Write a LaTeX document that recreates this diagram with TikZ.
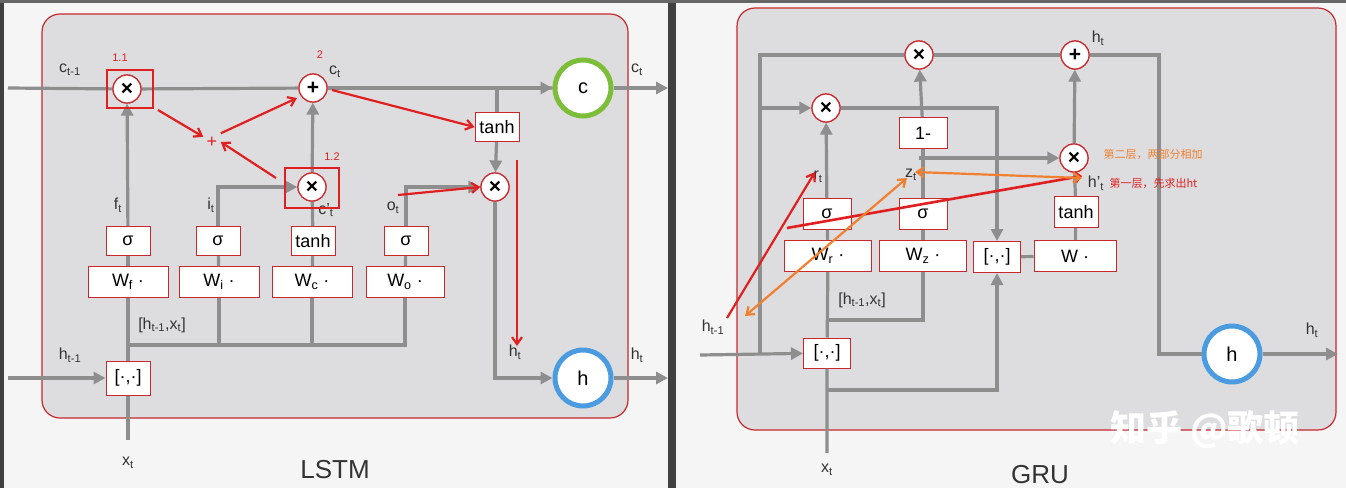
\documentclass[tikz,border=0pt]{standalone}
\usepackage{fontspec}
\setmainfont{Liberation Sans}
\newfontfamily\cjk{Noto Sans CJK SC}
\usetikzlibrary{arrows.meta}
\definecolor{lg}{HTML}{8E8E8E}
\definecolor{pan}{HTML}{DDDDDF}
\definecolor{rb}{HTML}{C8282C}
\definecolor{ann}{HTML}{E02020}
\definecolor{org}{HTML}{F08030}
\definecolor{gc}{HTML}{7CBE3A}
\definecolor{bc}{HTML}{4A9BE0}
\begin{document}
\begin{tikzpicture}[x=1pt,y=-1pt,
 ln/.style={draw=lg,line width=3.2},
 arr/.style={ln,-{Triangle[length=12,width=12]}},
 box/.style={draw=rb,fill=white,line width=1,minimum height=29,inner sep=1,font=\fontsize{18}{20}\selectfont},
 op/.style={circle,draw=rb,fill=white,line width=1.2,minimum size=28,inner sep=0,font=\fontsize{21}{21}\selectfont\bfseries},
 st/.style={draw,circle,line width=5,fill=white,minimum size=56,font=\fontsize{20}{20}\selectfont},
 lab/.style={font=\fontsize{16}{18}\selectfont,text=black!80},
 ra/.style={draw=ann,line width=2.2,-{Straight Barb[length=7,width=10]}},
 oa/.style={draw=org,line width=2.2,{Straight Barb[length=7,width=10]}-{Straight Barb[length=7,width=10]}},
 rs/.style={font=\fontsize{11}{12}\selectfont,text=ann}]
\useasboundingbox (0,0) rectangle (1346,488);
\fill[white!96!black] (0,0) rectangle (1346,488);
\fill[black!75] (0,0) rectangle (4,488);
\fill[black!75] (668,0) rectangle (676,488);
\fill[black!60] (0,0) rectangle (1346,3);
% ===== LSTM =====
\draw[rb,fill=pan,line width=1.2,rounded corners=18] (42,14) rectangle (628,418);
\node[op] (m11) at (127,89) {×};
\node[op] (pl) at (313,88) {+};
\node[box,minimum width=44] (tc) at (497,127) {tanh};
\node[op] (m12) at (312,187) {×};
\node[op] (mo) at (495,187) {×};
\node[st,draw=gc] (C) at (583,88) {c};
\node[st,draw=bc] (H) at (583,378) {h};
\node[box,minimum width=44,minimum height=34] (cc) at (128,378) {[·,·]};
\node[box,minimum width=44] (sf) at (128,241) {σ};
\node[box,minimum width=44] (si) at (218,241) {σ};
\node[box,minimum width=44] (tn) at (313,241) {tanh};
\node[box,minimum width=44] (so) at (406,241) {σ};
\node[box,minimum width=80,minimum height=31] (wf) at (128,282) {W\textsubscript{f} ·};
\node[box,minimum width=80,minimum height=31] (wi) at (219,282) {W\textsubscript{i} ·};
\node[box,minimum width=80,minimum height=31] (wc) at (312,282) {W\textsubscript{c} ·};
\node[box,minimum width=78,minimum height=31] (wo) at (405,282) {W\textsubscript{o} ·};
\coordinate (cin) at (8,88);
\coordinate (hin) at (8,378);
\coordinate (xin) at (128,440);
\coordinate (cout) at (668,88);
\coordinate (hout) at (668,378);
\coordinate (b) at (128,345);
\draw[ln] (cin) -- (m11) -- (pl) -- (C);
\draw[arr] (pl) -- (C);
\draw[arr] (C) -- (cout);
\draw[arr] (hin) -- (cc);
\draw[ln] (xin) -- (cc);
\draw[ln] (cc) -- (wf);
\draw[ln] (wf) -- (sf); \draw[arr] (sf) -- (m11);
\draw[ln] (b) -| (wo);
\draw[ln] (wi|-b) -- (wi); \draw[ln] (wc|-b) -- (wc);
\draw[ln] (wi) -- (si); \draw[ln] (wc) -- (tn); \draw[ln] (wo) -- (so);
\draw[arr] (si) |- (m12);
\draw[ln] (tn) -- (m12); \draw[arr] (m12) -- (pl);
\draw[arr] (so) |- (mo);
\draw[ln] (497,88) -- (tc); \draw[arr] (tc) -- (mo);
\draw[arr] (mo) |- (H);
\draw[arr] (H) -- (hout);
\node[op] at (m11) {×}; \node[op] at (pl) {+}; \node[op] at (m12) {×}; \node[op] at (mo) {×};
\node[box,minimum width=44] at (tc) {tanh};
\node[lab] (l1) at (70,70) {c\textsubscript{t-1}};
\node[lab] (l2) at (335,72) {c\textsubscript{t}};
\node[lab] (l3) at (637,70) {c\textsubscript{t}};
\node[lab] (l4) at (118,205) {f\textsubscript{t}};
\node[lab] (l5) at (211,205) {i\textsubscript{t}};
\node[lab] (l6) at (326,210) {c'\textsubscript{t}};
\node[lab] (l7) at (393,208) {o\textsubscript{t}};
\node[lab] (l8) at (162,325) {[h\textsubscript{t-1},x\textsubscript{t}]};
\node[lab] (l9) at (70,355) {h\textsubscript{t-1}};
\node[lab] (l10) at (515,352) {h\textsubscript{t}};
\node[lab] (l11) at (637,355) {h\textsubscript{t}};
\node[lab] (l12) at (128,463) {x\textsubscript{t}};
\node[font=\fontsize{26}{28}\selectfont,text=black!80] (t1) at (335,470) {LSTM};
% red annotations
\draw[ann,line width=1.3] (107,70) rectangle (153,108);
\draw[ann,line width=1.3] (285,168) rectangle (339,208);
\node[rs] (r1) at (120,58) {1.1};
\node[rs] (r2) at (320,55) {2};
\node[rs] (r3) at (332,157) {1.2};
\node[font=\fontsize{18}{18}\selectfont,text=ann] (pp) at (212,142) {+};
\draw[ra] (158,110) -- (pp);
\draw[ra] (276,178) -- (pp.east);
\draw[ra] (pp.north east) -- (297,98);
\draw[ra] (332,90) -- (tc.west);
\draw[ra] (398,195) -- (mo.west);
\coordinate (va) at (517,160); \coordinate (vb) at (517,346);
\draw[ra] (va) -- (vb);
% ===== GRU =====
\draw[rb,fill=pan,line width=1.2,rounded corners=18] (737,8) rectangle (1336,430);
\node[op] (gm1) at (919,55) {×};
\node[op] (gp) at (1075,55) {+};
\node[op] (gmr) at (826,108) {×};
\node[op] (gmh) at (1074,158) {×};
\node[box,minimum width=48,minimum height=31] (g1m) at (923,133) {1-};
\node[box,minimum width=48,minimum height=31] (gsr) at (827,214) {σ};
\node[box,minimum width=48,minimum height=31] (gsz) at (923,214) {σ};
\node[box,minimum width=44,minimum height=31] (gth) at (1076,212) {tanh};
\node[box,minimum width=87,minimum height=31] (gwr) at (828,256) {W\textsubscript{r} ·};
\node[box,minimum width=87,minimum height=31] (gwz) at (923,256) {W\textsubscript{z} ·};
\node[box,minimum width=47,minimum height=31] (gc2) at (997,257) {[·,·]};
\node[box,minimum width=82,minimum height=31] (gw) at (1075,256) {W ·};
\node[box,minimum width=47,minimum height=30] (gc1) at (827,353) {[·,·]};
\node[st,draw=bc] (gH) at (1232,354) {h};
\coordinate (ghin) at (700,355);
\coordinate (gxin) at (827,453);
\coordinate (ghout) at (1338,354);
\coordinate (gv) at (760,355);
\coordinate (gtop) at (760,55);
\coordinate (gr) at (1159,55);
\coordinate (gb1) at (827,320);
\coordinate (gb2) at (827,390);
\draw[arr] (ghin) -- (gc1);
\draw[ln] (gv) -- (gtop) -- (gm1) -- (gp) -- (gr) |- (gH);
\draw[arr] (gH) -- (ghout);
\draw[arr] (gv|-gmr) -- (gmr);
\draw[arr] (gmr) -| (gc2);
\draw[ln] (gxin) -- (gc1) -- (gwr) -- (gsr);
\draw[arr] (gsr) -- (gmr);
\draw[ln] (gb1) -| (gwz);
\draw[ln] (gwz) -- (gsz) -- (g1m);
\draw[arr] (g1m) -- (gm1);
\draw[arr] (gb2) -| (gc2);
\draw[arr] (gm1|-gmh) -- (gmh);
\draw[ln] (gc2) -- (gw) -- (gth) -- (gmh);
\draw[arr] (gmh) -- (gp);
\node[op] at (gm1) {×}; \node[op] at (gp) {+}; \node[op] at (gmr) {×}; \node[op] at (gmh) {×};
\node[box,minimum width=48,minimum height=31] at (g1m) {1-};
\node[lab] (gl1) at (713,327) {h\textsubscript{t-1}};
\node[lab] (gl2) at (1098,38) {h\textsubscript{t}};
\node[lab] (gl3) at (1312,330) {h\textsubscript{t}};
\node[lab] (gl4) at (818,177) {r\textsubscript{t}};
\node[lab] (gl5) at (911,175) {z\textsubscript{t}};
\node[lab] (gl6) at (1096,183) {h'\textsubscript{t}};
\node[lab] (gl7) at (862,300) {[h\textsubscript{t-1},x\textsubscript{t}]};
\node[lab] (gl8) at (827,470) {x\textsubscript{t}};
\node[font=\fontsize{26}{28}\selectfont,text=black!80] (t2) at (1040,475) {GRU};
\node[font=\cjk\fontsize{11}{12}\selectfont,text=org,anchor=west] (c1) at (1100,154) {第二层，两部分相加};
\node[font=\cjk\fontsize{11}{12}\selectfont,text=ann,anchor=west] (c2) at (1106,183) {第一层，先求出ht};
\coordinate (a1) at (727,318); \coordinate (a2) at (815,172);
\draw[ra] (a1) -- (a2);
\coordinate (a3) at (787,228); \coordinate (a4) at (1082,176);
\draw[ann,line width=2.6,-{Straight Barb[length=5,width=10]}] (a3) -- (a4);
\coordinate (o1) at (745,316); \coordinate (o2) at (907,178);
\draw[oa] (o1) -- (o2);
\coordinate (o3) at (915,172); \coordinate (o4) at (1082,178);
\draw[oa] (o3) -- (o4);
\node[font=\cjk\fontsize{36}{40}\selectfont\bfseries,text=white] (wm) at (1205,430) {知乎 @歌顿};
\end{tikzpicture}
\end{document}
